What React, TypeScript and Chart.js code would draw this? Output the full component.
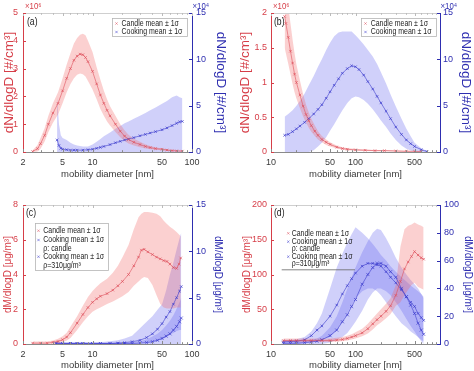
import React, { useEffect, useRef } from "react";
import { Chart, registerables } from "chart.js";

Chart.register(...registerables);

const NARROW = "'Liberation Sans Narrow', 'Liberation Sans', Arial, sans-serif";
const WIDE = "'Liberation Sans', Arial, sans-serif";
const SQUEEZE = 0.82;

const RED = "rgb(214, 62, 72)";
const BLUE = "rgb(46, 46, 176)";
const RED_MARK = "rgba(222, 80, 92, 0.85)";
const BLUE_MARK = "rgba(60, 60, 205, 0.85)";
const RED_FILL = "rgba(242, 100, 100, 0.3)";
const BLUE_FILL = "rgba(100, 100, 240, 0.3)";
const AXIS_GRAY = "#8a8a8a";
const TEXT_GRAY = "#3a3a3a";

// ---------- tick labels ----------
const XT_SMALL = [2, 5, 10, 50, 100];
const XM_SMALL = [3, 4, 6, 7, 8, 9, 20, 30, 40, 60, 70, 80, 90];
const XT_LARGE = [10, 50, 100, 500];
const XM_LARGE = [20, 30, 40, 60, 70, 80, 90, 200, 300, 400, 600, 700, 800, 900];

// ---------- panel (a): number, 2-100 nm ----------
const A_CANDLE_D = [2.5, 2.8, 3, 3.3, 3.6, 4, 4.5, 5, 5.5, 6, 6.5, 7, 7.5, 8, 8.5, 9, 10, 11, 12, 13, 14, 15, 17, 19, 21, 23, 26, 30, 34, 38, 43, 50, 56, 63, 70, 80];
const A_CANDLE_MEAN = [0.02, 0.12, 0.3, 0.6, 1.0, 1.4, 1.75, 2.2, 2.65, 3.0, 3.3, 3.45, 3.52, 3.5, 3.4, 3.25, 2.9, 2.45, 2.05, 1.75, 1.5, 1.3, 1.0, 0.75, 0.57, 0.45, 0.35, 0.27, 0.2, 0.16, 0.12, 0.1, 0.07, 0.05, 0.04, 0.03];
const A_CANDLE_UP = [0.06, 0.25, 0.5, 0.85, 1.3, 1.75, 2.15, 2.65, 3.15, 3.55, 3.9, 4.1, 4.22, 4.25, 4.2, 4.0, 3.6, 3.05, 2.6, 2.2, 1.9, 1.65, 1.3, 1.0, 0.78, 0.62, 0.48, 0.37, 0.28, 0.22, 0.17, 0.13, 0.1, 0.08, 0.06, 0.05];
const A_CANDLE_LO = [0, 0.02, 0.12, 0.38, 0.72, 1.05, 1.35, 1.75, 2.15, 2.45, 2.65, 2.78, 2.82, 2.8, 2.72, 2.55, 2.25, 1.9, 1.55, 1.3, 1.1, 0.95, 0.72, 0.53, 0.4, 0.31, 0.23, 0.17, 0.13, 0.1, 0.08, 0.06, 0.04, 0.03, 0.02, 0.01];
const A_COOK_D = [4.4, 4.6, 4.8, 5, 5.5, 6, 6.5, 7, 8, 9, 10, 11, 12, 13, 15, 17, 19, 21, 23, 26, 30, 34, 38, 43, 50, 56, 63, 70, 75, 80];
const A_COOK_MEAN = [1.3, 0.7, 0.4, 0.3, 0.25, 0.2, 0.2, 0.2, 0.2, 0.25, 0.3, 0.4, 0.5, 0.6, 0.8, 1.0, 1.15, 1.3, 1.4, 1.55, 1.75, 1.9, 2.05, 2.2, 2.4, 2.6, 2.85, 3.1, 3.25, 3.3];
const A_COOK_UP = [6.0, 3.0, 1.8, 1.5, 1.3, 1.0, 0.8, 0.7, 0.6, 0.6, 0.8, 1.1, 1.4, 1.7, 2.1, 2.5, 2.8, 3.1, 3.3, 3.6, 3.9, 4.2, 4.5, 4.8, 5.2, 5.5, 5.9, 6.1, 5.9, 5.8];
const A_COOK_LO = [0, 0, 0, 0, 0, 0, 0, 0, 0, 0, 0, 0, 0, 0, 0, 0, 0, 0, 0, 0, 0, 0, 0, 0, 0, 0, 0, 0, 0, 0];

// ---------- panel (b): number, 10-1000 nm ----------
const B_CANDLE_D = [14.5, 15, 16, 17, 18, 19, 20, 22, 24, 26, 28, 30, 33, 36, 40, 45, 50, 60, 70, 80, 100, 130, 170, 220, 300, 400, 500, 600];
const B_CANDLE_MEAN = [1.95, 1.85, 1.65, 1.45, 1.28, 1.12, 1.0, 0.82, 0.66, 0.54, 0.45, 0.38, 0.3, 0.24, 0.18, 0.14, 0.11, 0.07, 0.05, 0.04, 0.03, 0.025, 0.02, 0.02, 0.015, 0.01, 0.01, 0.005];
const B_CANDLE_UP = [2.5, 2.35, 2.1, 1.85, 1.62, 1.42, 1.26, 1.03, 0.83, 0.68, 0.57, 0.48, 0.38, 0.3, 0.23, 0.18, 0.14, 0.095, 0.07, 0.055, 0.045, 0.035, 0.03, 0.028, 0.022, 0.018, 0.015, 0.01];
const B_CANDLE_LO = [1.5, 1.42, 1.27, 1.12, 0.98, 0.86, 0.77, 0.63, 0.51, 0.42, 0.35, 0.29, 0.23, 0.18, 0.14, 0.1, 0.08, 0.05, 0.035, 0.025, 0.02, 0.015, 0.012, 0.01, 0.008, 0.005, 0.004, 0.002];
const B_COOK_D = [14.5, 16, 18, 20, 22, 25, 28, 32, 36, 40, 45, 50, 56, 63, 70, 80, 90, 100, 110, 125, 140, 160, 180, 200, 230, 260, 300, 350, 400, 450, 500, 600, 700];
const B_COOK_MEAN = [1.8, 1.9, 2.2, 2.5, 2.8, 3.2, 3.6, 4.1, 4.6, 5.1, 5.8, 6.5, 7.2, 7.9, 8.5, 9.0, 9.3, 9.2, 8.9, 8.3, 7.6, 6.8, 6.0, 5.3, 4.4, 3.6, 2.7, 1.9, 1.3, 0.9, 0.6, 0.25, 0.05];
const B_COOK_UP = [3.8, 4.1, 4.5, 5.0, 5.5, 6.3, 7.2, 8.2, 9.2, 10.0, 11.0, 11.8, 12.5, 12.9, 13.0, 13.0, 13.0, 12.6, 12.2, 11.6, 11.0, 10.3, 9.5, 8.6, 7.4, 6.2, 4.9, 3.6, 2.5, 1.7, 1.0, 0.4, 0.1];
const B_COOK_LO = [0, 0, 0, 0, 0, 0, 0, 0.2, 0.6, 1.0, 1.6, 2.3, 3.0, 3.8, 4.5, 5.3, 5.8, 6.0, 5.9, 5.6, 5.2, 4.6, 4.0, 3.4, 2.7, 2.0, 1.3, 0.7, 0.35, 0.15, 0.05, 0, 0];

// ---------- panel (c): mass, 2-100 nm ----------
const C_CANDLE_D = [2.5, 3, 3.5, 4, 4.5, 5, 5.5, 6, 7, 8, 9, 10, 11, 12, 14, 16, 18, 20, 23, 26, 29, 31, 33, 36, 40, 44, 48, 52, 56, 60, 65, 70, 74, 77];
const C_CANDLE_MEAN = [0.05, 0.05, 0.05, 0.1, 0.15, 0.25, 0.4, 0.65, 1.2, 1.7, 2.1, 2.4, 2.6, 2.75, 2.9, 3.1, 3.35, 3.6, 4.0, 4.5, 5.0, 5.4, 5.45, 5.3, 5.15, 5.0, 4.9, 4.8, 4.75, 4.6, 4.4, 4.35, 4.6, 4.95];
const C_CANDLE_UP = [0.15, 0.15, 0.15, 0.2, 0.3, 0.45, 0.65, 1.0, 1.6, 2.2, 2.7, 3.05, 3.3, 3.5, 3.75, 4.1, 4.5, 5.0, 5.7, 6.6, 7.3, 7.5, 7.6, 7.6, 7.55, 7.5, 7.35, 7.1, 6.9, 6.75, 6.6, 6.45, 6.3, 6.2];
const C_CANDLE_LO = [0, 0, 0, 0.02, 0.05, 0.1, 0.2, 0.35, 0.8, 1.25, 1.6, 1.85, 2.0, 2.1, 2.3, 2.45, 2.6, 2.75, 3.0, 3.35, 3.6, 3.75, 3.85, 3.8, 3.4, 2.8, 2.3, 2.1, 2.05, 2.05, 2.05, 2.1, 2.1, 2.1];
const C_COOK_D = [4.3, 5, 6, 7, 8, 10, 12, 15, 18, 21, 25, 30, 35, 40, 45, 50, 55, 60, 65, 70, 75, 78];
const C_COOK1_MEAN = [0.1, 0.05, 0.05, 0.05, 0.05, 0.05, 0.05, 0.05, 0.1, 0.15, 0.25, 0.4, 0.7, 1.1, 1.6, 2.2, 2.9, 3.5, 4.3, 5.0, 5.7, 6.2];
const C_COOK1_UP = [0.3, 0.2, 0.2, 0.2, 0.2, 0.2, 0.2, 0.3, 0.4, 0.6, 0.9, 1.7, 2.4, 3.0, 3.7, 4.3, 5.8, 7.5, 8.8, 10.2, 11.4, 12.0];
const C_COOK1_LO = [0, 0, 0, 0, 0, 0, 0, 0, 0, 0, 0, 0.05, 0.1, 0.2, 0.35, 0.5, 0.7, 1.0, 1.2, 1.4, 1.5, 1.5];
const C_COOK2_MEAN = [0.05, 0.05, 0.05, 0.05, 0.05, 0.05, 0.05, 0.05, 0.05, 0.05, 0.05, 0.1, 0.15, 0.25, 0.4, 0.6, 0.85, 1.1, 1.5, 1.9, 2.4, 2.8];
const C_COOK2_UP = [0.15, 0.15, 0.15, 0.15, 0.15, 0.15, 0.15, 0.15, 0.15, 0.15, 0.2, 0.3, 0.5, 0.8, 1.1, 1.5, 2.0, 2.5, 3.1, 3.8, 4.5, 5.0];
const C_COOK2_LO = [0, 0, 0, 0, 0, 0, 0, 0, 0, 0, 0, 0, 0, 0, 0, 0, 0, 0, 0, 0, 0, 0];

// ---------- panel (d): mass, 10-1000 nm ----------
const D_CANDLE_D = [14, 17, 20, 25, 30, 40, 50, 60, 70, 80, 90, 100, 120, 140, 160, 180, 200, 230, 260, 300, 340, 380, 420, 460, 500, 550, 600, 640];
const D_CANDLE_MEAN = [5, 5, 5, 5, 5, 5, 5, 5.5, 6.5, 8, 10, 12, 16, 22, 29, 35, 40, 47, 55, 70, 90, 108, 118, 126, 133, 128, 124, 122];
const D_CANDLE_UP = [8, 8, 8, 8, 8, 8, 8, 9, 10, 12, 14, 17, 22, 29, 37, 44, 50, 58, 66, 85, 140, 165, 170, 172, 175, 172, 170, 168];
const D_CANDLE_LO = [3, 3, 3, 3, 3, 3, 3, 3.5, 4, 5, 6.5, 8, 11, 15, 21, 27, 31, 37, 43, 55, 60, 70, 78, 85, 88, 82, 80, 78];
const D_COOK_D = [14, 17, 20, 25, 30, 35, 40, 50, 60, 70, 80, 90, 100, 120, 140, 160, 180, 200, 230, 260, 300, 350, 400, 450, 500, 550, 600, 640];
const D_COOK1_MEAN = [1.5, 1.8, 2, 3, 6, 10, 13, 20, 28, 36, 42, 47, 51, 56, 58, 58, 57, 56, 52, 48, 44, 39, 34, 30, 27, 22, 19, 17];
const D_COOK1_UP = [3, 3, 3.5, 5, 9, 15, 22, 40, 55, 65, 73, 79, 84, 80, 76, 72, 68, 64, 60, 56, 52, 48, 45, 42, 40, 38, 36, 34];
const D_COOK1_LO = [0, 0, 0, 0.5, 1, 2, 3, 5, 10, 16, 22, 28, 33, 38, 40, 40, 38, 35, 30, 25, 20, 15, 12, 9, 7, 5, 3, 2];
const D_COOK2_MEAN = [0.5, 0.5, 0.5, 1, 1.5, 2, 3, 6, 10, 16, 21, 27, 32, 43, 50, 55, 58, 58, 56, 52, 48, 40, 34, 28, 22, 15, 10, 7];
const D_COOK2_UP = [2, 2, 2, 2.5, 3, 4, 6, 12, 20, 30, 40, 48, 55, 66, 74, 80, 83, 82, 76, 70, 62, 55, 50, 46, 43, 40, 36, 33];
const D_COOK2_LO = [0, 0, 0, 0, 0, 0, 0, 1, 3, 5, 8, 12, 16, 24, 32, 37, 40, 40, 38, 35, 30, 24, 18, 13, 9, 5, 2, 0];

// ---------- texts ----------
const X_TITLE = "mobility diameter [nm]";
const N_TITLE = "dN/dlogD [#/cm³]";
const M_TITLE = "dM/dlogD [μg/m³]";
const LEG_CANDLE = "Candle mean ± 1σ";
const LEG_COOK = "Cooking mean ± 1σ";
const LEG_RHO_CANDLE = "ρ: candle";
const LEG_RHO_310 = "ρ=310μg/m³";

const pts = (xs: number[], ys: number[]) => xs.map((x, i) => ({ x, y: ys[i] }));
const fmt = (v: any) => String(Number(Number(v).toFixed(4)));

function band(d: number[], up: number[], lo: number[], axis: string, fill: string) {
  return [
    { data: pts(d, up), yAxisID: axis, borderColor: "transparent", borderWidth: 0, pointRadius: 0, backgroundColor: fill, fill: "+1", order: 10, tension: 0 },
    { data: pts(d, lo), yAxisID: axis, borderColor: "transparent", borderWidth: 0, pointRadius: 0, fill: false, order: 10, tension: 0 },
  ];
}
function mean(d: number[], m: number[], axis: string, color: string, r = 1.8) {
  return {
    data: pts(d, m), yAxisID: axis, borderColor: color, borderWidth: 0.7, pointStyle: "crossRot",
    pointRadius: r, pointBorderColor: color, pointBorderWidth: 0.8, pointBackgroundColor: color, fill: false, order: 0, tension: 0,
  };
}

type Row = { t: string; y: number; c?: string };
type Spec = any;

const PANELS: Spec[] = [
  {
    key: "a", left: 0, top: 0, w: 237, h: 185,
    area: { left: 23, right: 192, top: 13 },
    xh: 33, xMin: 2, xMax: 100, xTicks: XT_SMALL, xMinor: XM_SMALL, xLabPad: 5, xTitlePad: 5,
    yl: { min: 0, max: 5, step: 1, title: N_TITLE, size: 13.5, tpad: 1, lpad: 5 },
    yr: { min: 0, max: 15, step: 5, title: N_TITLE, size: 13.5, tpad: 8, lpad: 4 },
    expL: "×10⁶", expR: "×10⁴",
    label: { t: "(a)", x: 27, y: 22 },
    legend: { box: true, x: 111.5, y: 18.3, h: 18.4, mx: 116.5, tx: 121.5,
      rows: [{ t: LEG_CANDLE, y: 23.5, c: RED_MARK }, { t: LEG_COOK, y: 32, c: BLUE_MARK }] },
    datasets: [
      mean(A_CANDLE_D, A_CANDLE_MEAN, "y", RED_MARK),
      mean(A_COOK_D, A_COOK_MEAN, "y1", BLUE_MARK),
      ...band(A_CANDLE_D, A_CANDLE_UP, A_CANDLE_LO, "y", RED_FILL),
      ...band(A_COOK_D, A_COOK_UP, A_COOK_LO, "y1", BLUE_FILL),
    ],
  },
  {
    key: "b", left: 237, top: 0, w: 237, h: 185,
    area: { left: 34, right: 203, top: 13 },
    xh: 33, xMin: 10, xMax: 1000, xTicks: XT_LARGE, xMinor: XM_LARGE, xLabPad: 5, xTitlePad: 5,
    yl: { min: 0, max: 2, step: 0.5, title: N_TITLE, size: 13.5, tpad: 0, lpad: 4 },
    yr: { min: 0, max: 15, step: 5, title: N_TITLE, size: 13.5, tpad: 0, lpad: 3 },
    expL: "×10⁶", expR: "×10⁴",
    label: { t: "(b)", x: 37, y: 22 },
    legend: { box: true, x: 123.7, y: 18.3, h: 18.4, mx: 128.5, tx: 133.7,
      rows: [{ t: LEG_CANDLE, y: 23.5, c: RED_MARK }, { t: LEG_COOK, y: 32, c: BLUE_MARK }] },
    datasets: [
      mean(B_CANDLE_D, B_CANDLE_MEAN, "y", RED_MARK),
      mean(B_COOK_D, B_COOK_MEAN, "y1", BLUE_MARK),
      ...band(B_CANDLE_D, B_CANDLE_UP, B_CANDLE_LO, "y", RED_FILL),
      ...band(B_COOK_D, B_COOK_UP, B_COOK_LO, "y1", BLUE_FILL),
    ],
  },
  {
    key: "c", left: 0, top: 185, w: 237, h: 186,
    area: { left: 23, right: 192, top: 20 },
    xh: 27, xMin: 2, xMax: 100, xTicks: XT_SMALL, xMinor: XM_SMALL, xLabPad: 5, xTitlePad: 0,
    yl: { min: 0, max: 8, step: 2, title: M_TITLE, size: 10, tpad: 2, lpad: 5 },
    yr: { min: 0, max: 15, step: 5, title: M_TITLE, size: 10, tpad: 13, lpad: 4 },
    label: { t: "(c)", x: 26, y: 28.5 },
    legend: { box: true, x: 35, y: 38.3, h: 47.4, mx: 38.5, tx: 43.3,
      rows: [{ t: LEG_CANDLE, y: 45.7, c: RED_MARK }, { t: LEG_COOK, y: 55, c: BLUE_MARK }, { t: LEG_RHO_CANDLE, y: 63.3 },
        { t: LEG_COOK, y: 71.7, c: BLUE_MARK }, { t: LEG_RHO_310, y: 80.5 }] },
    datasets: [
      mean(C_CANDLE_D, C_CANDLE_MEAN, "y", RED_MARK),
      mean(C_COOK_D, C_COOK1_MEAN, "y1", BLUE_MARK),
      mean(C_COOK_D, C_COOK2_MEAN, "y1", BLUE_MARK, 2.2),
      ...band(C_CANDLE_D, C_CANDLE_UP, C_CANDLE_LO, "y", RED_FILL),
      ...band(C_COOK_D, C_COOK1_UP, C_COOK1_LO, "y1", BLUE_FILL),
      ...band(C_COOK_D, C_COOK2_UP, C_COOK2_LO, "y1", BLUE_FILL),
    ],
  },
  {
    key: "d", left: 237, top: 185, w: 237, h: 186,
    area: { left: 34, right: 203, top: 20 },
    xh: 27, xMin: 10, xMax: 1000, xTicks: XT_LARGE, xMinor: XM_LARGE, xLabPad: 5, xTitlePad: 0,
    yl: { min: 0, max: 200, step: 50, title: M_TITLE, size: 10, tpad: 4, lpad: 4 },
    yr: { min: 0, max: 100, step: 20, title: M_TITLE, size: 10, tpad: 0, lpad: 4 },
    label: { t: "(d)", x: 37, y: 28.5 },
    legend: { box: false, x: 44.7, y: 0, h: 0, mx: 51.3, tx: 54.7,
      rows: [{ t: LEG_CANDLE, y: 48.3, c: RED_MARK }, { t: LEG_COOK, y: 56.7, c: BLUE_MARK }, { t: LEG_RHO_CANDLE, y: 63.5 },
        { t: LEG_COOK, y: 71.7, c: BLUE_MARK }, { t: LEG_RHO_310, y: 79 }],
      underline: { x1: 44.7, x2: 118, y: 84.3 } },
    datasets: [
      mean(D_CANDLE_D, D_CANDLE_MEAN, "y", RED_MARK),
      mean(D_COOK_D, D_COOK1_MEAN, "y1", BLUE_MARK),
      mean(D_COOK_D, D_COOK2_MEAN, "y1", BLUE_MARK, 2.2),
      ...band(D_CANDLE_D, D_CANDLE_UP, D_CANDLE_LO, "y", RED_FILL),
      ...band(D_COOK_D, D_COOK1_UP, D_COOK1_LO, "y1", BLUE_FILL),
      ...band(D_COOK_D, D_COOK2_UP, D_COOK2_LO, "y1", BLUE_FILL),
    ],
  },
];

function squeezedText(ctx: CanvasRenderingContext2D, t: string, x: number, y: number) {
  ctx.save();
  ctx.translate(x, y);
  ctx.scale(SQUEEZE, 1);
  ctx.fillText(t, 0, 0);
  ctx.restore();
}

function decor(spec: Spec) {
  return {
    id: "decor_" + spec.key,
    afterDatasetsDraw(chart: any) {
      const { ctx, chartArea: a, scales } = chart;
      const x = scales.x, yl = scales.y, yr = scales.y1;
      ctx.save();
      const line = (x1: number, y1: number, x2: number, y2: number, c: string, w = 1) => {
        ctx.strokeStyle = c; ctx.lineWidth = w;
        ctx.beginPath(); ctx.moveTo(x1, y1); ctx.lineTo(x2, y2); ctx.stroke();
      };
      // top border
      line(a.left, a.top + 0.5, a.right, a.top + 0.5, "#cfcfcf");
      // x ticks (inward)
      for (const v of spec.xTicks) {
        const px = Math.round(x.getPixelForValue(v)) + 0.5;
        line(px, a.bottom, px, a.bottom - 3, AXIS_GRAY);
        line(px, a.top, px, a.top + 3, "#bbbbbb");
      }
      for (const v of spec.xMinor) {
        if (v <= spec.xMin || v >= spec.xMax) continue;
        const px = Math.round(x.getPixelForValue(v)) + 0.5;
        line(px, a.bottom, px, a.bottom - 1.8, AXIS_GRAY);
        line(px, a.top, px, a.top + 1.8, "#bbbbbb");
      }
      for (const t of yl.ticks) {
        const py = Math.round(yl.getPixelForValue(t.value)) + 0.5;
        line(a.left, py, a.left + 3, py, RED);
      }
      for (const t of yr.ticks) {
        const py = Math.round(yr.getPixelForValue(t.value)) + 0.5;
        line(a.right, py, a.right - 3, py, BLUE);
      }
      // exponent labels
      ctx.textBaseline = "alphabetic";
      ctx.textAlign = "left";
      ctx.font = `9.5px ${NARROW}`;
      if (spec.expL) { ctx.fillStyle = RED; squeezedText(ctx, spec.expL, a.left + 2, 9); }
      if (spec.expR) { ctx.fillStyle = BLUE; squeezedText(ctx, spec.expR, a.right + 0.5, 9); }
      // panel label
      ctx.font = `10.5px ${NARROW}`;
      ctx.fillStyle = "#222";
      ctx.textBaseline = "middle";
      squeezedText(ctx, spec.label.t, spec.label.x, spec.label.y);
      // legend
      const L = spec.legend;
      ctx.font = `8.5px ${NARROW}`;
      if (L.box) {
        let maxW = 0;
        for (const r of L.rows as Row[]) maxW = Math.max(maxW, ctx.measureText(r.t).width * SQUEEZE);
        const w = L.tx - L.x + maxW + 4;
        ctx.fillStyle = "#ffffff";
        ctx.fillRect(L.x, L.y, w, L.h);
        ctx.strokeStyle = "#b5b5b5"; ctx.lineWidth = 0.8;
        ctx.strokeRect(Math.round(L.x) + 0.5, Math.round(L.y) + 0.5, Math.round(w), Math.round(L.h));
      }
      for (const r of L.rows as Row[]) {
        if (r.c) {
          ctx.strokeStyle = r.c; ctx.lineWidth = 0.6;
          ctx.beginPath();
          ctx.moveTo(L.mx - 1.2, r.y - 1.2); ctx.lineTo(L.mx + 1.2, r.y + 1.2);
          ctx.moveTo(L.mx - 1.2, r.y + 1.2); ctx.lineTo(L.mx + 1.2, r.y - 1.2);
          ctx.stroke();
        }
        ctx.fillStyle = "#222";
        squeezedText(ctx, r.t, L.tx, r.y);
      }
      if (L.underline) line(L.underline.x1, L.underline.y + 0.5, L.underline.x2, L.underline.y + 0.5, "#666", 0.8);
      ctx.restore();
    },
  };
}

function makeConfig(spec: Spec): any {
  const yAxis = (o: any, side: "left" | "right", color: string) => ({
    type: "linear",
    position: side,
    min: o.min,
    max: o.max,
    grid: { display: false, drawTicks: false },
    border: { display: true, color, width: 1 },
    ticks: { stepSize: o.step, color, padding: o.lpad, font: { family: NARROW, size: 9 }, callback: fmt },
    title: { display: true, text: o.title, color, font: { family: WIDE, size: o.size }, padding: { top: o.tpad, bottom: 0 } },
    afterFit: (s: any) => { s.width = side === "left" ? spec.area.left : spec.w - spec.area.right; },
  });
  return {
    type: "line",
    data: { datasets: spec.datasets },
    options: {
      animation: false,
      responsive: false,
      maintainAspectRatio: false,
      events: [],
      layout: { padding: { left: 0, right: 0, top: spec.area.top, bottom: 0 }, autoPadding: false },
      plugins: { legend: { display: false }, tooltip: { enabled: false } },
      scales: {
        x: {
          type: "logarithmic",
          position: "bottom",
          min: spec.xMin,
          max: spec.xMax,
          grid: { display: false, drawTicks: false },
          border: { display: true, color: AXIS_GRAY, width: 1 },
          ticks: { color: TEXT_GRAY, padding: spec.xLabPad, maxRotation: 0, autoSkip: false, font: { family: NARROW, size: 9 }, callback: fmt },
          afterBuildTicks: (s: any) => { s.ticks = spec.xTicks.map((v: number) => ({ value: v })); },
          afterFit: (s: any) => { s.height = spec.xh; },
          title: { display: true, text: X_TITLE, color: TEXT_GRAY, font: { family: NARROW, size: 9.5 }, padding: { top: 0, bottom: spec.xTitlePad } },
        },
        y: yAxis(spec.yl, "left", RED),
        y1: yAxis(spec.yr, "right", BLUE),
      },
    },
    plugins: [decor(spec)],
  };
}

function Panel({ spec }: { spec: Spec }) {
  const ref = useRef<HTMLCanvasElement>(null);
  useEffect(() => {
    const chart = new Chart(ref.current as HTMLCanvasElement, makeConfig(spec));
    return () => chart.destroy();
  }, [spec]);
  return (
    <canvas
      ref={ref}
      width={spec.w}
      height={spec.h}
      style={{ position: "absolute", left: spec.left, top: spec.top, width: spec.w, height: spec.h }}
    />
  );
}

export default function App() {
  return (
    <div style={{ position: "fixed", left: 0, top: 0, width: 474, height: 371, background: "#fff", overflow: "hidden" }}>
      {PANELS.map((p) => (
        <Panel key={p.key} spec={p} />
      ))}
    </div>
  );
}
